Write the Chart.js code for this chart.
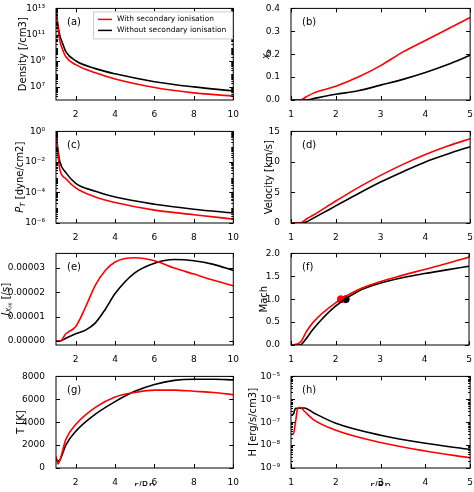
<!DOCTYPE html>
<html><head><meta charset="utf-8">
<script src="https://cdn.jsdelivr.net/npm/chart.js@4"></script>
<style>body{margin:0;background:#fff;width:474px;height:492px;position:relative;overflow:hidden}
div.p{position:absolute}</style></head><body>
<script>
// ---- data ----
const xDen=[1,1.1,1.2,1.3,1.5,2,3,4,6,8,10];
const denRed=[1e13,3e11,3e10,1e10,2e9,5e8,1.2e8,4e7,9e6,3.5e6,2e6];
const denBlack=[1e13,5e11,8e10,3e10,5e9,1e9,2.5e8,1e8,2.5e7,1e7,5e6];
const xP=[1,1.1,1.2,1.5,2,3,4,6,8,10];
const pRed=[1,3e-2,3e-3,8e-4,2e-4,5e-5,2.2e-5,7e-6,3.5e-6,1.8e-6];
const pBlack=[1,6e-2,1e-2,2e-3,4e-4,1.2e-4,5e-5,1.7e-5,8e-6,4.5e-6];
const xJ=[1,1.2,1.5,2,2.5,3,3.5,4,5,6,7,8,9,10];
const jRed=[0,0,3e-6,6e-6,1.4e-5,2.3e-5,2.9e-5,3.25e-5,3.42e-5,3.3e-5,3e-5,2.75e-5,2.5e-5,2.27e-5];
const jBlack=[0,0,1.2e-6,3e-6,4.5e-6,7.5e-6,1.3e-5,1.95e-5,2.8e-5,3.2e-5,3.35e-5,3.3e-5,3.15e-5,2.9e-5];
const xT=[1,1.1,1.2,1.5,2,3,4,5,6,7,8,9,10];
const tRed=[1000,350,700,2500,3800,5300,6200,6600,6800,6800,6700,6600,6400];
const tBlack=[800,600,700,2000,3200,4700,5800,6700,7300,7650,7750,7750,7700];
const xR=[1,1.2,1.35,1.5,2,2.5,3,3.5,4,4.5,5];
const xeRed=[0,0,0.015,0.03,0.06,0.1,0.15,0.21,0.26,0.31,0.36];
const xeBlack=[0,0,0,0.006,0.025,0.04,0.065,0.09,0.12,0.155,0.195];
const velRed=[0,0,0.7,1.3,3.6,5.8,7.8,9.6,11.2,12.6,13.8];
const velBlack=[0,0,0.2,0.8,2.8,4.8,6.7,8.4,10,11.3,12.5];
const machRed=[0,0.05,0.3,0.5,0.92,1.2,1.38,1.52,1.65,1.78,1.92];
const machBlack=[0,0,0.15,0.35,0.85,1.17,1.35,1.47,1.56,1.64,1.72];
const sonicRed=[2.12,1.0], sonicBlack=[2.23,1.0];
const xH=[1,1.05,1.1,1.15,1.2,1.3,1.5,2,3,4,5];
const hRed=[3e-8,3e-8,1e-7,4e-7,4.5e-7,3e-7,1.3e-7,4.5e-8,1.3e-8,5.5e-9,2.8e-9];
const hBlack=[2e-7,2.2e-7,4e-7,4e-7,4.1e-7,4.2e-7,2.6e-7,9e-8,2.7e-8,1.2e-8,6.5e-9];
const legendLabels=['With secondary ionisation','Without secondary ionisation'];

const FONT='"DejaVu Sans", sans-serif';
const sup={'0':'⁰','1':'¹','2':'²','3':'³','4':'⁴','5':'⁵','6':'⁶','7':'⁷','8':'⁸','9':'⁹','-':'⁻'};
const pow=v=>'10'+String(Math.round(Math.log10(v))).split('').map(c=>sup[c]).join('');
const pts=(xs,ys)=>xs.map((x,i)=>({x,y:ys[i]}));

function drawRich(ctx,segs,cx,cy){
  ctx.save();ctx.translate(cx,cy);ctx.rotate(-Math.PI/2);ctx.fillStyle='#000';ctx.textBaseline='alphabetic';ctx.textAlign='left';
  let w=0;segs.forEach(s=>{ctx.font=(s.i?'italic ':'')+s.f+'px '+FONT;w+=ctx.measureText(s.t).width;});
  let x=-w/2;segs.forEach(s=>{ctx.font=(s.i?'italic ':'')+s.f+'px '+FONT;ctx.fillText(s.t,x,4+(s.d||0));x+=ctx.measureText(s.t).width;});
  ctx.restore();
}
const framePlugin={id:'frame',afterDraw(c){
  const o=c.options.plugins.frame;const a=c.chartArea,ctx=c.ctx;
  ctx.save();ctx.strokeStyle='#000';ctx.lineWidth=1;
  ctx.strokeRect(a.left,a.top,a.right-a.left,a.bottom-a.top);
  const xs=c.scales.x,ys=c.scales.y;ctx.beginPath();
  xs.ticks.forEach(t=>{const p=Math.round(xs.getPixelForValue(t.value))+0.5;ctx.moveTo(p,a.bottom);ctx.lineTo(p,a.bottom-4);ctx.moveTo(p,a.top);ctx.lineTo(p,a.top+4);});
  ys.ticks.forEach(t=>{const p=Math.round(ys.getPixelForValue(t.value))+0.5;ctx.moveTo(a.left,p);ctx.lineTo(a.left+4,p);ctx.moveTo(a.right,p);ctx.lineTo(a.right-4,p);});
  if(ys.type==='logarithmic'){const lo=Math.log10(ys.min),hi=Math.log10(ys.max);
    for(let e=Math.floor(lo);e<hi;e++)for(let k=2;k<10;k++){const v=k*10**e;if(v<ys.min||v>ys.max)continue;const p=Math.round(ys.getPixelForValue(v))+0.5;ctx.moveTo(a.left,p);ctx.lineTo(a.left+2,p);ctx.moveTo(a.right,p);ctx.lineTo(a.right-2,p);}}
  ctx.stroke();
  ctx.fillStyle='#000';ctx.font='10px '+FONT;ctx.textBaseline='middle';ctx.textAlign='left';
  ctx.fillText(o.tag,a.left+o.tagX,a.top+14);
  drawRich(ctx,o.title,o.titleX,(a.top+a.bottom)/2);
  if(o.legend){const lx=a.left+37,ly=a.top+3;ctx.lineWidth=1;ctx.strokeStyle='#ccc';ctx.fillStyle='#fff';
    ctx.fillRect(lx,ly,139,27);ctx.strokeRect(lx+0.5,ly+0.5,139,27);ctx.font='7.5px '+FONT;
    [['red',legendLabels[0]],['#000',legendLabels[1]]].forEach((l,i)=>{const yy=ly+8+i*11;ctx.strokeStyle=l[0];ctx.lineWidth=1.5;ctx.beginPath();ctx.moveTo(lx+5,yy);ctx.lineTo(lx+19,yy);ctx.stroke();ctx.fillStyle='#000';ctx.fillText(l[1],lx+24,yy);});}
  if(o.xtitle){ctx.textAlign='center';ctx.font='10px '+FONT;ctx.fillText('r/Rp',(a.left+a.right)/2,a.bottom+18);}
  ctx.restore();
}};

function panel(o){
  const d=document.createElement('div');d.className='p';
  d.style.left=o.left+'px';d.style.top=(o.top-5)+'px';d.style.width=o.w+'px';d.style.height=(o.h+5+18)+'px';
  const cv=document.createElement('canvas');d.appendChild(cv);document.body.appendChild(d);
  const ds=[{data:pts(o.xs,o.red),borderColor:'red'},{data:pts(o.xs,o.black),borderColor:'#000'}];
  ds.forEach(s=>{s.showLine=true;s.borderWidth=1.6;s.pointRadius=0;s.cubicInterpolationMode='monotone';s.fill=false;});
  if(o.dots){ds.push({data:[{x:o.dots[0][0],y:o.dots[0][1]}],showLine:false,pointRadius:3.5,backgroundColor:'red',borderColor:'red'});
    ds.push({data:[{x:o.dots[1][0],y:o.dots[1][1]}],showLine:false,pointRadius:3.5,backgroundColor:'#000',borderColor:'#000'});}
  const tickFont={family:FONT,size:9};
  new Chart(cv,{type:'scatter',data:{datasets:ds},plugins:[framePlugin],options:{
    responsive:true,maintainAspectRatio:false,animation:false,
    layout:{padding:{top:5,right:o.pr,bottom:0,left:0}},
    plugins:{legend:{display:false},tooltip:{enabled:false},frame:{tag:o.tag,tagX:o.tagX,title:o.title,titleX:o.titleX,legend:o.legend,xtitle:o.xtitle}},
    scales:{
      x:{type:'linear',min:o.xmin,max:o.xmax,grid:{display:false},border:{display:false},
        afterBuildTicks:s=>{s.ticks=o.xt.map(v=>({value:v}));},
        ticks:{font:tickFont,color:'#000',padding:1,maxRotation:0,callback:v=>String(v)},
        afterFit:s=>{s.height=18;}},
      y:{type:o.log?'logarithmic':'linear',min:o.ymin,max:o.ymax,grid:{display:false},border:{display:false},
        afterBuildTicks:s=>{s.ticks=o.yt.map(v=>({value:v}));},
        ticks:{font:tickFont,color:'#000',padding:3,callback:o.fmt},
        afterFit:s=>{s.width=o.yw;}}
    }}});
}
const L={left:0,w:240,yw:56,pr:4,xmin:1,xmax:10,xt:[2,4,6,8,10],h:95};
const R={left:240,w:234,yw:51,pr:2,xmin:1,xmax:5,xt:[1,2,3,4,5],h:95};
const fix1=v=>v.toFixed(1);
panel({...L,top:5,xs:xDen,red:denRed,black:denBlack,log:true,ymin:1e6,ymax:1e13,yt:[1e7,1e9,1e11,1e13],fmt:pow,tag:'(a)',tagX:11,titleX:22,title:[{t:'Density [/cm3]',f:10}],legend:true});
panel({...L,top:128,xs:xP,red:pRed,black:pBlack,log:true,ymin:1e-6,ymax:1,yt:[1e-6,1e-4,1e-2,1],fmt:pow,tag:'(c)',tagX:11,titleX:19,title:[{t:'P',f:10,i:true},{t:'T',f:7,i:true,d:2},{t:' [dyne/cm2]',f:10}]});
panel({...L,top:250,xs:xJ,red:jRed,black:jBlack,ymin:-1.6e-6,ymax:3.6e-5,yt:[0,1e-5,2e-5,3e-5],fmt:v=>v.toFixed(5),tag:'(e)',tagX:11,titleX:5,title:[{t:'J',f:10,i:true},{t:'X',f:7,i:true,d:2},{t:'HI',f:5,i:true,d:3},{t:' [/s]',f:10}]});
panel({...L,top:373,xs:xT,red:tRed,black:tBlack,ymin:0,ymax:8000,yt:[0,2000,4000,6000,8000],fmt:v=>String(v),tag:'(g)',tagX:11,titleX:20,title:[{t:'T [K]',f:10}],xtitle:true});
panel({...R,top:5,xs:xR,red:xeRed,black:xeBlack,ymin:0,ymax:0.4,yt:[0,0.1,0.2,0.3,0.4],fmt:fix1,tag:'(b)',tagX:11,titleX:25,title:[{t:'x',f:10,i:true},{t:'e',f:7,i:true,d:2}]});
panel({...R,top:128,xs:xR,red:velRed,black:velBlack,ymin:0,ymax:15,yt:[0,5,10,15],fmt:v=>String(v),tag:'(d)',tagX:11,titleX:28,title:[{t:'Velocity [km/s]',f:10}]});
panel({...R,top:250,xs:xR,red:machRed,black:machBlack,ymin:0,ymax:2,yt:[0,0.5,1,1.5,2],fmt:fix1,tag:'(f)',tagX:11,titleX:23,title:[{t:'Mach',f:10}],dots:[sonicRed,sonicBlack]});
panel({...R,top:373,xs:xH,red:hRed,black:hBlack,log:true,ymin:1e-9,ymax:1e-5,yt:[1e-9,1e-8,1e-7,1e-6,1e-5],fmt:pow,tag:'(h)',tagX:11,titleX:12,title:[{t:'H [erg/s/cm3]',f:10}],xtitle:true});
</script></body></html>
